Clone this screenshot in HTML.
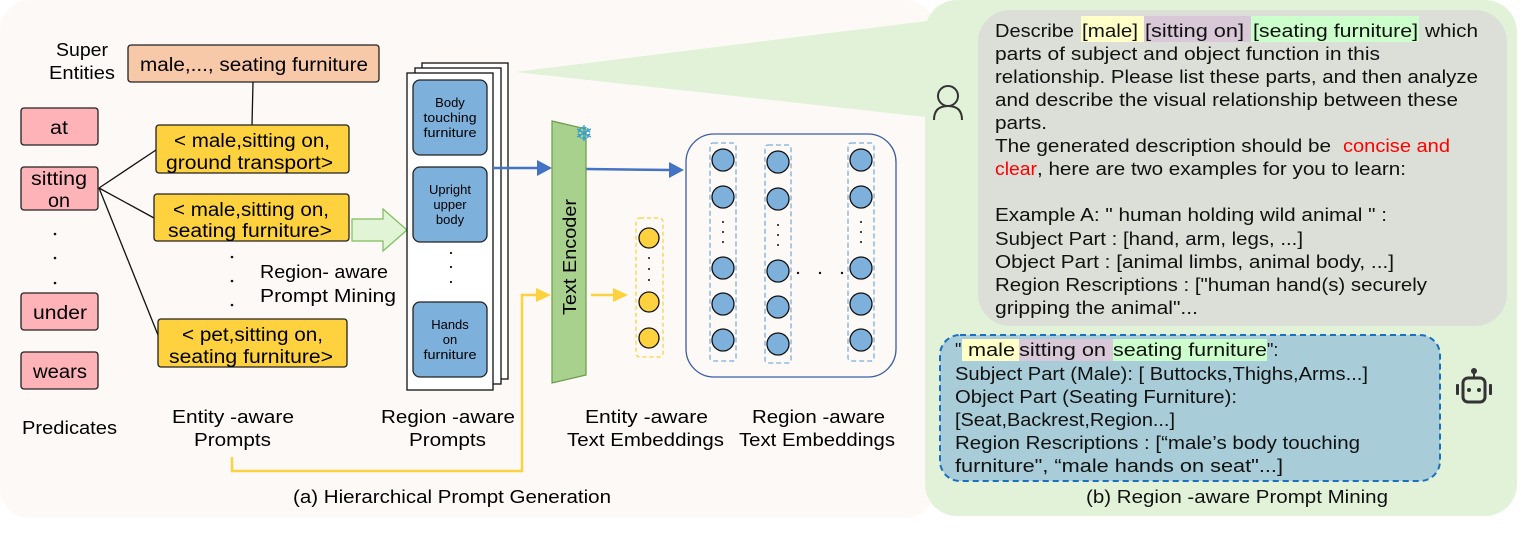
<!DOCTYPE html>
<html><head><meta charset="utf-8"><style>
html,body{margin:0;padding:0;background:#fff;}
svg{display:block;font-family:"Liberation Sans",sans-serif;}
</style></head><body>
<svg width="1521" height="552" viewBox="0 0 1521 552" xmlns="http://www.w3.org/2000/svg">
<rect x="0" y="0" width="1521" height="552" fill="#fff"/>
<rect x="0" y="0" width="935" height="518" rx="30" fill="#fdf9f6"/>
<rect x="925" y="0" width="592" height="516" rx="32" fill="#e2f2d9"/>
<polygon points="515,72 935,20 935,118" fill="#e2f2d9"/>

<g lengthAdjust="spacingAndGlyphs">
<!-- super entities -->
<text x="56" y="56" font-size="18" textLength="52" lengthAdjust="spacingAndGlyphs">Super</text>
<text x="49" y="79" font-size="18" textLength="66" lengthAdjust="spacingAndGlyphs">Entities</text>
<rect x="128" y="45" width="251" height="37" rx="3" fill="#f7c9a8" stroke="#222" stroke-width="1.3"/>
<text x="140" y="71" font-size="19" textLength="228" lengthAdjust="spacingAndGlyphs">male,..., seating furniture</text>
<line x1="253" y1="82" x2="252" y2="125" stroke="#111" stroke-width="1.3"/>

<!-- predicates -->
<g fill="#fdb3b8" stroke="#222" stroke-width="1.3">
<rect x="21" y="108" width="77" height="37" rx="3"/>
<rect x="21" y="167" width="77" height="43" rx="3"/>
<rect x="21" y="293" width="77" height="37" rx="3"/>
<rect x="21" y="352" width="77" height="37" rx="3"/>
</g>
<g font-size="19">
<text x="50" y="134" textLength="18" lengthAdjust="spacingAndGlyphs">at</text>
<text x="31" y="185" textLength="56" lengthAdjust="spacingAndGlyphs">sitting</text>
<text x="48" y="207" textLength="22" lengthAdjust="spacingAndGlyphs">on</text>
<text x="33" y="319" textLength="54" lengthAdjust="spacingAndGlyphs">under</text>
<text x="33" y="378" textLength="54" lengthAdjust="spacingAndGlyphs">wears</text>
<text x="22" y="434" font-size="18" textLength="95" lengthAdjust="spacingAndGlyphs">Predicates</text>
</g>
<g fill="#111"><circle cx="55" cy="234" r="1.3"/><circle cx="55" cy="258" r="1.3"/><circle cx="55" cy="283" r="1.3"/></g>
<g stroke="#111" stroke-width="1.3">
<line x1="99" y1="188" x2="156" y2="150"/>
<line x1="99" y1="188" x2="154" y2="218"/>
<line x1="99" y1="188" x2="158" y2="335"/>
</g>

<!-- entity-aware prompts -->
<g fill="#fdd23e" stroke="#222" stroke-width="1.3">
<rect x="156" y="125" width="193" height="48" rx="3"/>
<rect x="154" y="194" width="195" height="47" rx="3"/>
<rect x="158" y="319" width="189" height="48" rx="3"/>
</g>
<g font-size="19">
<text x="174" y="147" textLength="156" lengthAdjust="spacingAndGlyphs">&lt; male,sitting on,</text>
<text x="166" y="169" textLength="167" lengthAdjust="spacingAndGlyphs">ground transport&gt;</text>
<text x="173" y="216" textLength="156" lengthAdjust="spacingAndGlyphs">&lt; male,sitting on,</text>
<text x="168" y="237" textLength="164" lengthAdjust="spacingAndGlyphs">seating furniture&gt;</text>
<text x="182" y="341" textLength="141" lengthAdjust="spacingAndGlyphs">&lt; pet,sitting on,</text>
<text x="169" y="363" textLength="164" lengthAdjust="spacingAndGlyphs">seating furniture&gt;</text>
</g>
<g fill="#111"><circle cx="232" cy="257" r="1.3"/><circle cx="232" cy="281" r="1.3"/><circle cx="232" cy="305" r="1.3"/></g>
<text x="260" y="278" font-size="18" textLength="128" lengthAdjust="spacingAndGlyphs">Region- aware</text>
<text x="260" y="302" font-size="18" textLength="136" lengthAdjust="spacingAndGlyphs">Prompt Mining</text>
</g>

<!-- green arrow -->
<polygon points="352,219 383,219 383,209 407,230 383,251 383,241 352,241" fill="#e2f4d6" stroke="#7cbf5a" stroke-width="1.2"/>

<!-- stacked -->
<rect x="422" y="63" width="86" height="316" fill="#fff" stroke="#111" stroke-width="1.3"/>
<rect x="415" y="68" width="86" height="316" fill="#fff" stroke="#111" stroke-width="1.3"/>
<rect x="407" y="73" width="86" height="317" fill="#fff" stroke="#111" stroke-width="1.3"/>
<g fill="#7eb0dc" stroke="#222" stroke-width="1.3">
<rect x="413" y="80" width="74" height="75" rx="7"/>
<rect x="413" y="167" width="74" height="75" rx="7"/>
<rect x="413" y="302" width="74" height="75" rx="7"/>
</g>
<g font-size="13" text-anchor="middle">
<text x="450" y="107">Body</text><text x="450" y="122" textLength="53" lengthAdjust="spacingAndGlyphs">touching</text><text x="450" y="137" textLength="53" lengthAdjust="spacingAndGlyphs">furniture</text>
<text x="450" y="194">Upright</text><text x="450" y="209">upper</text><text x="450" y="224">body</text>
<text x="450" y="329">Hands</text><text x="450" y="344">on</text><text x="450" y="359" textLength="53" lengthAdjust="spacingAndGlyphs">furniture</text>
</g>
<g fill="#111"><circle cx="451" cy="253" r="1.1"/><circle cx="451" cy="267" r="1.1"/><circle cx="451" cy="282" r="1.1"/></g>

<g font-size="18">
<text x="172" y="423" textLength="122" lengthAdjust="spacingAndGlyphs">Entity -aware</text><text x="194" y="446" textLength="77" lengthAdjust="spacingAndGlyphs">Prompts</text>
<text x="381" y="423" textLength="134" lengthAdjust="spacingAndGlyphs">Region -aware</text><text x="409" y="446" textLength="77" lengthAdjust="spacingAndGlyphs">Prompts</text>
<text x="585" y="423" textLength="123" lengthAdjust="spacingAndGlyphs">Entity -aware</text><text x="567" y="446" textLength="157" lengthAdjust="spacingAndGlyphs">Text Embeddings</text>
<text x="752" y="423" textLength="133" lengthAdjust="spacingAndGlyphs">Region -aware</text><text x="739" y="446" textLength="156" lengthAdjust="spacingAndGlyphs">Text Embeddings</text>
<text x="293" y="503" textLength="318" lengthAdjust="spacingAndGlyphs">(a) Hierarchical Prompt Generation</text>
</g>

<!-- yellow connector -->
<polyline points="232,457 232,471 522,471 522,295 538,295" fill="none" stroke="#fdd23e" stroke-width="2.5"/>
<polygon points="536,288 551,295 536,302" fill="#fdd23e"/>
<line x1="591" y1="295" x2="616" y2="295" stroke="#fdd23e" stroke-width="2.5"/>
<polygon points="613,288 628,295 613,302" fill="#fdd23e"/>

<!-- blue arrows -->
<line x1="493" y1="168" x2="540" y2="168" stroke="#4472c4" stroke-width="2.5"/>
<polygon points="537,160 552,168 537,176" fill="#4472c4"/>
<line x1="586" y1="169" x2="672" y2="170" stroke="#4472c4" stroke-width="2.5"/>
<polygon points="669,162 684,170 669,178" fill="#4472c4"/>

<!-- text encoder -->
<polygon points="552,121 586,129 586,375 552,383" fill="#a9d18e" stroke="#6a9c4a" stroke-width="1.2"/>
<text x="0" y="0" font-size="18" text-anchor="middle" textLength="116" lengthAdjust="spacingAndGlyphs" transform="translate(576,257) rotate(-90)">Text Encoder</text>
<text x="584" y="141" font-size="22" fill="#2e9bd6" text-anchor="middle">❄</text>

<!-- entity embeddings -->
<rect x="636" y="218" width="27" height="139" rx="4" fill="none" stroke="#fdd23e" stroke-width="1.3" stroke-dasharray="4,3"/>
<g fill="#fdd23e" stroke="#111" stroke-width="1.3">
<circle cx="649" cy="238" r="10"/><circle cx="649" cy="302" r="10"/><circle cx="649" cy="338" r="10"/>
</g>
<g fill="#111"><circle cx="649" cy="258" r="1"/><circle cx="649" cy="269" r="1"/><circle cx="649" cy="280" r="1"/></g>

<!-- region embeddings -->
<rect x="686" y="134" width="210" height="243" rx="28" fill="none" stroke="#3a5ea8" stroke-width="1.3"/>
<g fill="none" stroke="#7aaee0" stroke-width="1.3" stroke-dasharray="5,3">
<rect x="710" y="143" width="26" height="218" rx="3"/>
<rect x="765" y="145" width="26" height="218" rx="3"/>
<rect x="848" y="143" width="26" height="218" rx="3"/>
</g>
<g fill="#7eb0dc" stroke="#111" stroke-width="1.3">
<circle cx="723" cy="160" r="11"/><circle cx="723" cy="197" r="11"/><circle cx="723" cy="268" r="11"/><circle cx="723" cy="304" r="11"/><circle cx="723" cy="340" r="11"/>
<circle cx="778" cy="162" r="11"/><circle cx="778" cy="199" r="11"/><circle cx="778" cy="271" r="11"/><circle cx="778" cy="307" r="11"/><circle cx="778" cy="344" r="11"/>
<circle cx="861" cy="160" r="11"/><circle cx="861" cy="197" r="11"/><circle cx="861" cy="268" r="11"/><circle cx="861" cy="304" r="11"/><circle cx="861" cy="340" r="11"/>
</g>
<g fill="#111">
<circle cx="723" cy="222" r="1"/><circle cx="723" cy="232" r="1"/><circle cx="723" cy="242" r="1"/>
<circle cx="778" cy="225" r="1"/><circle cx="778" cy="235" r="1"/><circle cx="778" cy="245" r="1"/>
<circle cx="861" cy="222" r="1"/><circle cx="861" cy="232" r="1"/><circle cx="861" cy="242" r="1"/>
<circle cx="798" cy="273" r="1.2"/><circle cx="820" cy="273" r="1.2"/><circle cx="842" cy="273" r="1.2"/>
</g>

<!-- right panel -->
<rect x="978" y="10" width="529" height="316" rx="32" fill="#dcdfd8"/>
<rect x="1081" y="16" width="63" height="26" fill="#ffffc8"/>
<rect x="1144" y="16" width="107" height="26" fill="#d9c8d8"/>
<rect x="1251" y="16" width="168" height="26" fill="#ccffcc"/>
<g font-size="18" fill="#111">
<text x="995" y="37" textLength="79" lengthAdjust="spacingAndGlyphs">Describe</text>
<text x="1082" y="37" textLength="56" lengthAdjust="spacingAndGlyphs">[male]</text>
<text x="1145" y="37" textLength="99" lengthAdjust="spacingAndGlyphs">[sitting on]</text>
<text x="1253" y="37" textLength="165" lengthAdjust="spacingAndGlyphs">[seating furniture]</text>
<text x="1425" y="37" textLength="53" lengthAdjust="spacingAndGlyphs">which</text>
<text x="995" y="60" textLength="385" lengthAdjust="spacingAndGlyphs">parts of subject and object function in this</text>
<text x="995" y="83" textLength="483" lengthAdjust="spacingAndGlyphs">relationship. Please list these parts, and then analyze</text>
<text x="995" y="106" textLength="463" lengthAdjust="spacingAndGlyphs">and describe the visual relationship between these</text>
<text x="995" y="129" textLength="52" lengthAdjust="spacingAndGlyphs">parts.</text>
<text x="995" y="152" textLength="336" lengthAdjust="spacingAndGlyphs">The generated description should be</text>
<text x="1343" y="152" fill="#ff0000" textLength="107" lengthAdjust="spacingAndGlyphs">concise and</text>
<text x="995" y="175" fill="#ff0000" textLength="42" lengthAdjust="spacingAndGlyphs">clear</text>
<text x="1037" y="175" textLength="369" lengthAdjust="spacingAndGlyphs">, here are two examples for you to learn:</text>
<text x="995" y="221" textLength="392" lengthAdjust="spacingAndGlyphs">Example A: " human holding wild animal " :</text>
<text x="995" y="245" textLength="308" lengthAdjust="spacingAndGlyphs">Subject Part :  [hand, arm, legs, ...]</text>
<text x="995" y="268" textLength="399" lengthAdjust="spacingAndGlyphs">Object Part : [animal limbs,  animal body, ...]</text>
<text x="995" y="291" textLength="432" lengthAdjust="spacingAndGlyphs">Region Rescriptions : ["human hand(s) securely</text>
<text x="995" y="314" textLength="203" lengthAdjust="spacingAndGlyphs">gripping the animal"...</text>
</g>
<!-- person icon -->
<circle cx="948" cy="96" r="10" fill="none" stroke="#333" stroke-width="2"/>
<path d="M934,120 Q934,106 948,106 Q962,106 962,120" fill="none" stroke="#333" stroke-width="2"/>

<rect x="940" y="335" width="500" height="146" rx="20" fill="#a8cdd8" stroke="#1a6fc0" stroke-width="2" stroke-dasharray="6,4"/>
<rect x="962" y="339" width="57" height="22" fill="#ffffc8"/>
<rect x="1019" y="339" width="94" height="22" fill="#d9c8d8"/>
<rect x="1113" y="339" width="154" height="22" fill="#ccffcc"/>
<g font-size="18" fill="#111">
<text x="955" y="356">"</text>
<text x="968" y="356" textLength="47" lengthAdjust="spacingAndGlyphs">male</text>
<text x="1019" y="356" textLength="87" lengthAdjust="spacingAndGlyphs">sitting on</text>
<text x="1113" y="356" textLength="154" lengthAdjust="spacingAndGlyphs">seating furniture</text>
<text x="1267" y="356">":</text>
<text x="955" y="380" textLength="413" lengthAdjust="spacingAndGlyphs">Subject Part (Male): [ Buttocks,Thighs,Arms...]</text>
<text x="955" y="403" textLength="282" lengthAdjust="spacingAndGlyphs">Object Part (Seating Furniture):</text>
<text x="955" y="426" textLength="220" lengthAdjust="spacingAndGlyphs">[Seat,Backrest,Region...]</text>
<text x="955" y="449" textLength="405" lengthAdjust="spacingAndGlyphs">Region Rescriptions : [“male’s body touching</text>
<text x="955" y="472" textLength="328" lengthAdjust="spacingAndGlyphs">furniture", “male    hands on seat"...]</text>
<text x="1086" y="503" textLength="302" lengthAdjust="spacingAndGlyphs">(b) Region -aware Prompt Mining</text>
</g>
<!-- robot -->
<g fill="#333">
<circle cx="1474" cy="371" r="3"/>
<rect x="1473" y="372" width="2" height="6"/>
<rect x="1463" y="378" width="22" height="24" rx="5" fill="none" stroke="#333" stroke-width="3"/>
<circle cx="1469" cy="390" r="2"/><circle cx="1479" cy="390" r="2"/>
<rect x="1456" y="384" width="3" height="11" rx="1"/>
<rect x="1489" y="384" width="3" height="11" rx="1"/>
</g>
</svg>
</body></html>
